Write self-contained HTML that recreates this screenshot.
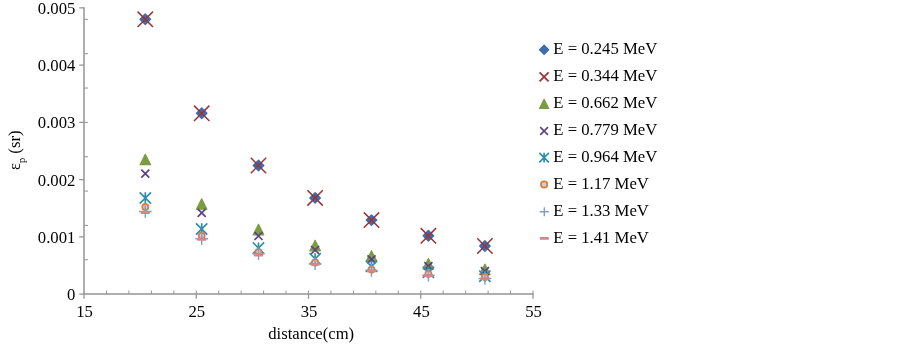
<!DOCTYPE html>
<html><head><meta charset="utf-8"><title>chart</title>
<style>
html,body{margin:0;padding:0;background:#fff;}
svg{display:block;}
text{font-family:"Liberation Serif","Times New Roman",serif;font-size:16.7px;fill:#000;}
</style></head><body>
<svg width="903" height="344" viewBox="0 0 903 344">
<rect width="903" height="344" fill="#fff"/>
<g stroke="#949494" fill="none">
<path d="M84.0 7.2V294.85" stroke-width="1.5"/>
<path d="M83.25 294.1H533.6" stroke-width="1.5"/>
<path d="M79.2 294.10H84.0M79.2 236.86H84.0M79.2 179.62H84.0M79.2 122.38H84.0M79.2 65.14H84.0M79.2 7.90H84.0M84.00 294.1V298.70000000000005M196.25 294.1V298.70000000000005M308.50 294.1V298.70000000000005M420.75 294.1V298.70000000000005M533.00 294.1V298.70000000000005" stroke-width="1.25"/>
<path d="M84.0 259.76H88.0M84.0 225.41H88.0M84.0 191.07H88.0M84.0 156.72H88.0M84.0 122.38H88.0M84.0 88.04H88.0M84.0 53.69H88.0M84.0 19.35H88.0M106.45 294.1V290.5M128.90 294.1V290.5M151.35 294.1V290.5M173.80 294.1V290.5M196.25 294.1V290.5M218.70 294.1V290.5M241.15 294.1V290.5M263.60 294.1V290.5M286.05 294.1V290.5M308.50 294.1V290.5M330.95 294.1V290.5M353.40 294.1V290.5M375.85 294.1V290.5M398.30 294.1V290.5M420.75 294.1V290.5M443.20 294.1V290.5M465.65 294.1V290.5M488.10 294.1V290.5M510.55 294.1V290.5M533.00 294.1V290.5" stroke-width="1.0"/>
</g>
<text x="75.4" y="300.0" text-anchor="end">0</text>
<text x="75.4" y="242.8" text-anchor="end">0.001</text>
<text x="75.4" y="185.5" text-anchor="end">0.002</text>
<text x="75.4" y="128.3" text-anchor="end">0.003</text>
<text x="75.4" y="71.0" text-anchor="end">0.004</text>
<text x="75.4" y="13.8" text-anchor="end">0.005</text>
<text x="84.6" y="316.8" text-anchor="middle">15</text>
<text x="196.8" y="316.8" text-anchor="middle">25</text>
<text x="309.1" y="316.8" text-anchor="middle">35</text>
<text x="421.4" y="316.8" text-anchor="middle">45</text>
<text x="533.6" y="316.8" text-anchor="middle">55</text>
<text x="311.2" y="338.7" text-anchor="middle" style="font-size:16.65px">distance(cm)</text>
<text transform="translate(20.2,150.3) rotate(-90)" text-anchor="middle">ε<tspan dy="5" style="font-size:10.5px">p</tspan><tspan dy="-5"> (sr)</tspan></text>
<path d="M145.3 14.1L150.5 19.3L145.3 24.5L140.1 19.3Z" fill="#3d6cae" stroke="#3d6cae" stroke-width="1.4" stroke-linejoin="round"/>
<path d="M201.7 108.1L206.9 113.3L201.7 118.5L196.5 113.3Z" fill="#3d6cae" stroke="#3d6cae" stroke-width="1.4" stroke-linejoin="round"/>
<path d="M258.5 160.3L263.7 165.5L258.5 170.7L253.3 165.5Z" fill="#3d6cae" stroke="#3d6cae" stroke-width="1.4" stroke-linejoin="round"/>
<path d="M315.1 192.7L320.3 197.9L315.1 203.1L309.9 197.9Z" fill="#3d6cae" stroke="#3d6cae" stroke-width="1.4" stroke-linejoin="round"/>
<path d="M371.5 214.9L376.7 220.1L371.5 225.3L366.3 220.1Z" fill="#3d6cae" stroke="#3d6cae" stroke-width="1.4" stroke-linejoin="round"/>
<path d="M428.4 230.6L433.6 235.8L428.4 241.0L423.2 235.8Z" fill="#3d6cae" stroke="#3d6cae" stroke-width="1.4" stroke-linejoin="round"/>
<path d="M484.9 240.8L490.1 246.0L484.9 251.2L479.7 246.0Z" fill="#3d6cae" stroke="#3d6cae" stroke-width="1.4" stroke-linejoin="round"/>
<path d="M137.6 11.6L153.0 27.0M137.6 27.0L153.0 11.6" stroke="#9f3232" stroke-width="1.5" fill="none"/>
<path d="M194.0 105.6L209.4 121.0M194.0 121.0L209.4 105.6" stroke="#9f3232" stroke-width="1.5" fill="none"/>
<path d="M250.8 157.8L266.2 173.2M250.8 173.2L266.2 157.8" stroke="#9f3232" stroke-width="1.5" fill="none"/>
<path d="M307.4 190.2L322.8 205.6M307.4 205.6L322.8 190.2" stroke="#9f3232" stroke-width="1.5" fill="none"/>
<path d="M363.8 212.4L379.2 227.8M363.8 227.8L379.2 212.4" stroke="#9f3232" stroke-width="1.5" fill="none"/>
<path d="M420.7 228.1L436.1 243.5M420.7 243.5L436.1 228.1" stroke="#9f3232" stroke-width="1.5" fill="none"/>
<path d="M477.2 238.3L492.6 253.7M477.2 253.7L492.6 238.3" stroke="#9f3232" stroke-width="1.5" fill="none"/>
<path d="M145.3 154.2L150.6 164.7L140.1 164.7Z" fill="#7c9c43" stroke="#7c9c43" stroke-width="1.2" stroke-linejoin="round"/>
<path d="M201.7 198.8L206.9 209.2L196.4 209.2Z" fill="#7c9c43" stroke="#7c9c43" stroke-width="1.2" stroke-linejoin="round"/>
<path d="M258.5 224.3L263.8 234.8L253.2 234.8Z" fill="#7c9c43" stroke="#7c9c43" stroke-width="1.2" stroke-linejoin="round"/>
<path d="M315.1 240.2L320.4 250.8L309.9 250.8Z" fill="#7c9c43" stroke="#7c9c43" stroke-width="1.2" stroke-linejoin="round"/>
<path d="M371.5 250.7L376.8 261.1L366.2 261.1Z" fill="#7c9c43" stroke="#7c9c43" stroke-width="1.2" stroke-linejoin="round"/>
<path d="M428.4 258.6L433.6 269.1L423.1 269.1Z" fill="#7c9c43" stroke="#7c9c43" stroke-width="1.2" stroke-linejoin="round"/>
<path d="M484.9 264.1L490.1 274.6L479.6 274.6Z" fill="#7c9c43" stroke="#7c9c43" stroke-width="1.2" stroke-linejoin="round"/>
<path d="M141.3 169.7L149.3 177.7M141.3 177.7L149.3 169.7" stroke="#5c4087" stroke-width="1.7" fill="none"/>
<path d="M197.7 208.8L205.7 216.8M197.7 216.8L205.7 208.8" stroke="#5c4087" stroke-width="1.7" fill="none"/>
<path d="M254.5 232.0L262.5 240.0M254.5 240.0L262.5 232.0" stroke="#5c4087" stroke-width="1.7" fill="none"/>
<path d="M311.1 246.0L319.1 254.0M311.1 254.0L319.1 246.0" stroke="#5c4087" stroke-width="1.7" fill="none"/>
<path d="M367.5 255.3L375.5 263.3M367.5 263.3L375.5 255.3" stroke="#5c4087" stroke-width="1.7" fill="none"/>
<path d="M424.4 262.2L432.4 270.2M424.4 270.2L432.4 262.2" stroke="#5c4087" stroke-width="1.7" fill="none"/>
<path d="M480.9 267.2L488.9 275.2M480.9 275.2L488.9 267.2" stroke="#5c4087" stroke-width="1.7" fill="none"/>
<path d="M139.7 192.3L151.0 203.7M139.7 203.7L151.0 192.3M145.3 192.3L145.3 203.7" stroke="#2d8ead" stroke-width="1.7" fill="none"/>
<path d="M196.0 223.3L207.3 234.7M196.0 234.7L207.3 223.3M201.7 223.3L201.7 234.7" stroke="#2d8ead" stroke-width="1.7" fill="none"/>
<path d="M252.8 242.4L264.1 253.8M252.8 253.8L264.1 242.4M258.5 242.4L258.5 253.8" stroke="#2d8ead" stroke-width="1.7" fill="none"/>
<path d="M309.5 253.2L320.8 264.5M309.5 264.5L320.8 253.2M315.1 253.2L315.1 264.5" stroke="#2d8ead" stroke-width="1.7" fill="none"/>
<path d="M365.9 260.8L377.1 272.0M365.9 272.0L377.1 260.8M371.5 260.8L371.5 272.0" stroke="#2d8ead" stroke-width="1.7" fill="none"/>
<path d="M422.8 266.6L434.0 277.8M422.8 277.8L434.0 266.6M428.4 266.6L428.4 277.8" stroke="#2d8ead" stroke-width="1.7" fill="none"/>
<path d="M479.2 270.5L490.5 281.8M479.2 281.8L490.5 270.5M484.9 270.5L484.9 281.8" stroke="#2d8ead" stroke-width="1.7" fill="none"/>
<circle cx="145.3" cy="206.9" r="3.05" fill="#c3d0e6" stroke="#e27c30" stroke-width="1.7"/>
<circle cx="201.7" cy="235.6" r="3.05" fill="#c3d0e6" stroke="#e27c30" stroke-width="1.7"/>
<circle cx="258.5" cy="252.1" r="3.05" fill="#c3d0e6" stroke="#e27c30" stroke-width="1.7"/>
<circle cx="315.1" cy="262.5" r="3.05" fill="#c3d0e6" stroke="#e27c30" stroke-width="1.7"/>
<circle cx="371.5" cy="269.6" r="3.05" fill="#c3d0e6" stroke="#e27c30" stroke-width="1.7"/>
<circle cx="428.4" cy="273.8" r="3.05" fill="#c3d0e6" stroke="#e27c30" stroke-width="1.7"/>
<circle cx="484.9" cy="277.0" r="3.05" fill="#c3d0e6" stroke="#e27c30" stroke-width="1.7"/>
<path d="M139.0 211.5L151.6 211.5M145.3 205.2L145.3 217.8" stroke="#7f9dcf" stroke-width="1.4" fill="none"/>
<path d="M195.4 238.7L208.0 238.7M201.7 232.4L201.7 245.0" stroke="#7f9dcf" stroke-width="1.4" fill="none"/>
<path d="M252.2 253.6L264.8 253.6M258.5 247.3L258.5 259.9" stroke="#7f9dcf" stroke-width="1.4" fill="none"/>
<path d="M308.8 263.6L321.4 263.6M315.1 257.3L315.1 269.9" stroke="#7f9dcf" stroke-width="1.4" fill="none"/>
<path d="M365.2 270.4L377.8 270.4M371.5 264.1L371.5 276.7" stroke="#7f9dcf" stroke-width="1.4" fill="none"/>
<path d="M422.1 275.2L434.7 275.2M428.4 268.9L428.4 281.5" stroke="#7f9dcf" stroke-width="1.4" fill="none"/>
<path d="M478.6 278.5L491.2 278.5M484.9 272.2L484.9 284.8" stroke="#7f9dcf" stroke-width="1.4" fill="none"/>
<rect x="140.7" y="211.1" width="9.2" height="2.8" rx="0.6" fill="#d08888"/>
<rect x="197.1" y="237.9" width="9.2" height="2.8" rx="0.6" fill="#d08888"/>
<rect x="253.9" y="253.6" width="9.2" height="2.8" rx="0.6" fill="#d08888"/>
<rect x="310.5" y="262.9" width="9.2" height="2.8" rx="0.6" fill="#d08888"/>
<rect x="366.9" y="269.5" width="9.2" height="2.8" rx="0.6" fill="#d08888"/>
<rect x="423.8" y="274.1" width="9.2" height="2.8" rx="0.6" fill="#d08888"/>
<rect x="480.3" y="277.3" width="9.2" height="2.8" rx="0.6" fill="#d08888"/>
<path d="M544.1 45.3L548.6 49.8L544.1 54.3L539.6 49.8Z" fill="#3d6cae" stroke="#3d6cae" stroke-width="1.4" stroke-linejoin="round"/>
<path d="M539.6 72.3L548.6 81.3M539.6 81.3L548.6 72.3" stroke="#9f3232" stroke-width="1.7" fill="none"/>
<path d="M544.1 99.2L548.7 108.4L539.5 108.4Z" fill="#7c9c43" stroke="#7c9c43" stroke-width="1.2" stroke-linejoin="round"/>
<path d="M540.2 127.1L548.0 134.9M540.2 134.9L548.0 127.1" stroke="#5c4087" stroke-width="1.6" fill="none"/>
<path d="M539.3 152.8L548.9 162.4M539.3 162.4L548.9 152.8M544.1 152.8L544.1 162.4" stroke="#2d8ead" stroke-width="1.7" fill="none"/>
<circle cx="544.1" cy="184.5" r="3.2" fill="#c3d0e6" stroke="#e27c30" stroke-width="1.7"/>
<path d="M539.8 211.7L548.8 211.7M544.3 207.2L544.3 216.2" stroke="#7f9dcf" stroke-width="1.4" fill="none"/>
<rect x="539.8" y="237.0" width="9.0" height="2.8" rx="0.6" fill="#d08888"/>
<text x="553.3" y="54.0">E = 0.245 MeV</text>
<text x="553.3" y="81.1">E = 0.344 MeV</text>
<text x="553.3" y="108.1">E = 0.662 MeV</text>
<text x="553.3" y="135.2">E = 0.779 MeV</text>
<text x="553.3" y="162.2">E = 0.964 MeV</text>
<text x="553.3" y="189.3">E = 1.17 MeV</text>
<text x="553.3" y="216.4">E = 1.33 MeV</text>
<text x="553.3" y="243.4">E = 1.41 MeV</text>
</svg></body></html>
